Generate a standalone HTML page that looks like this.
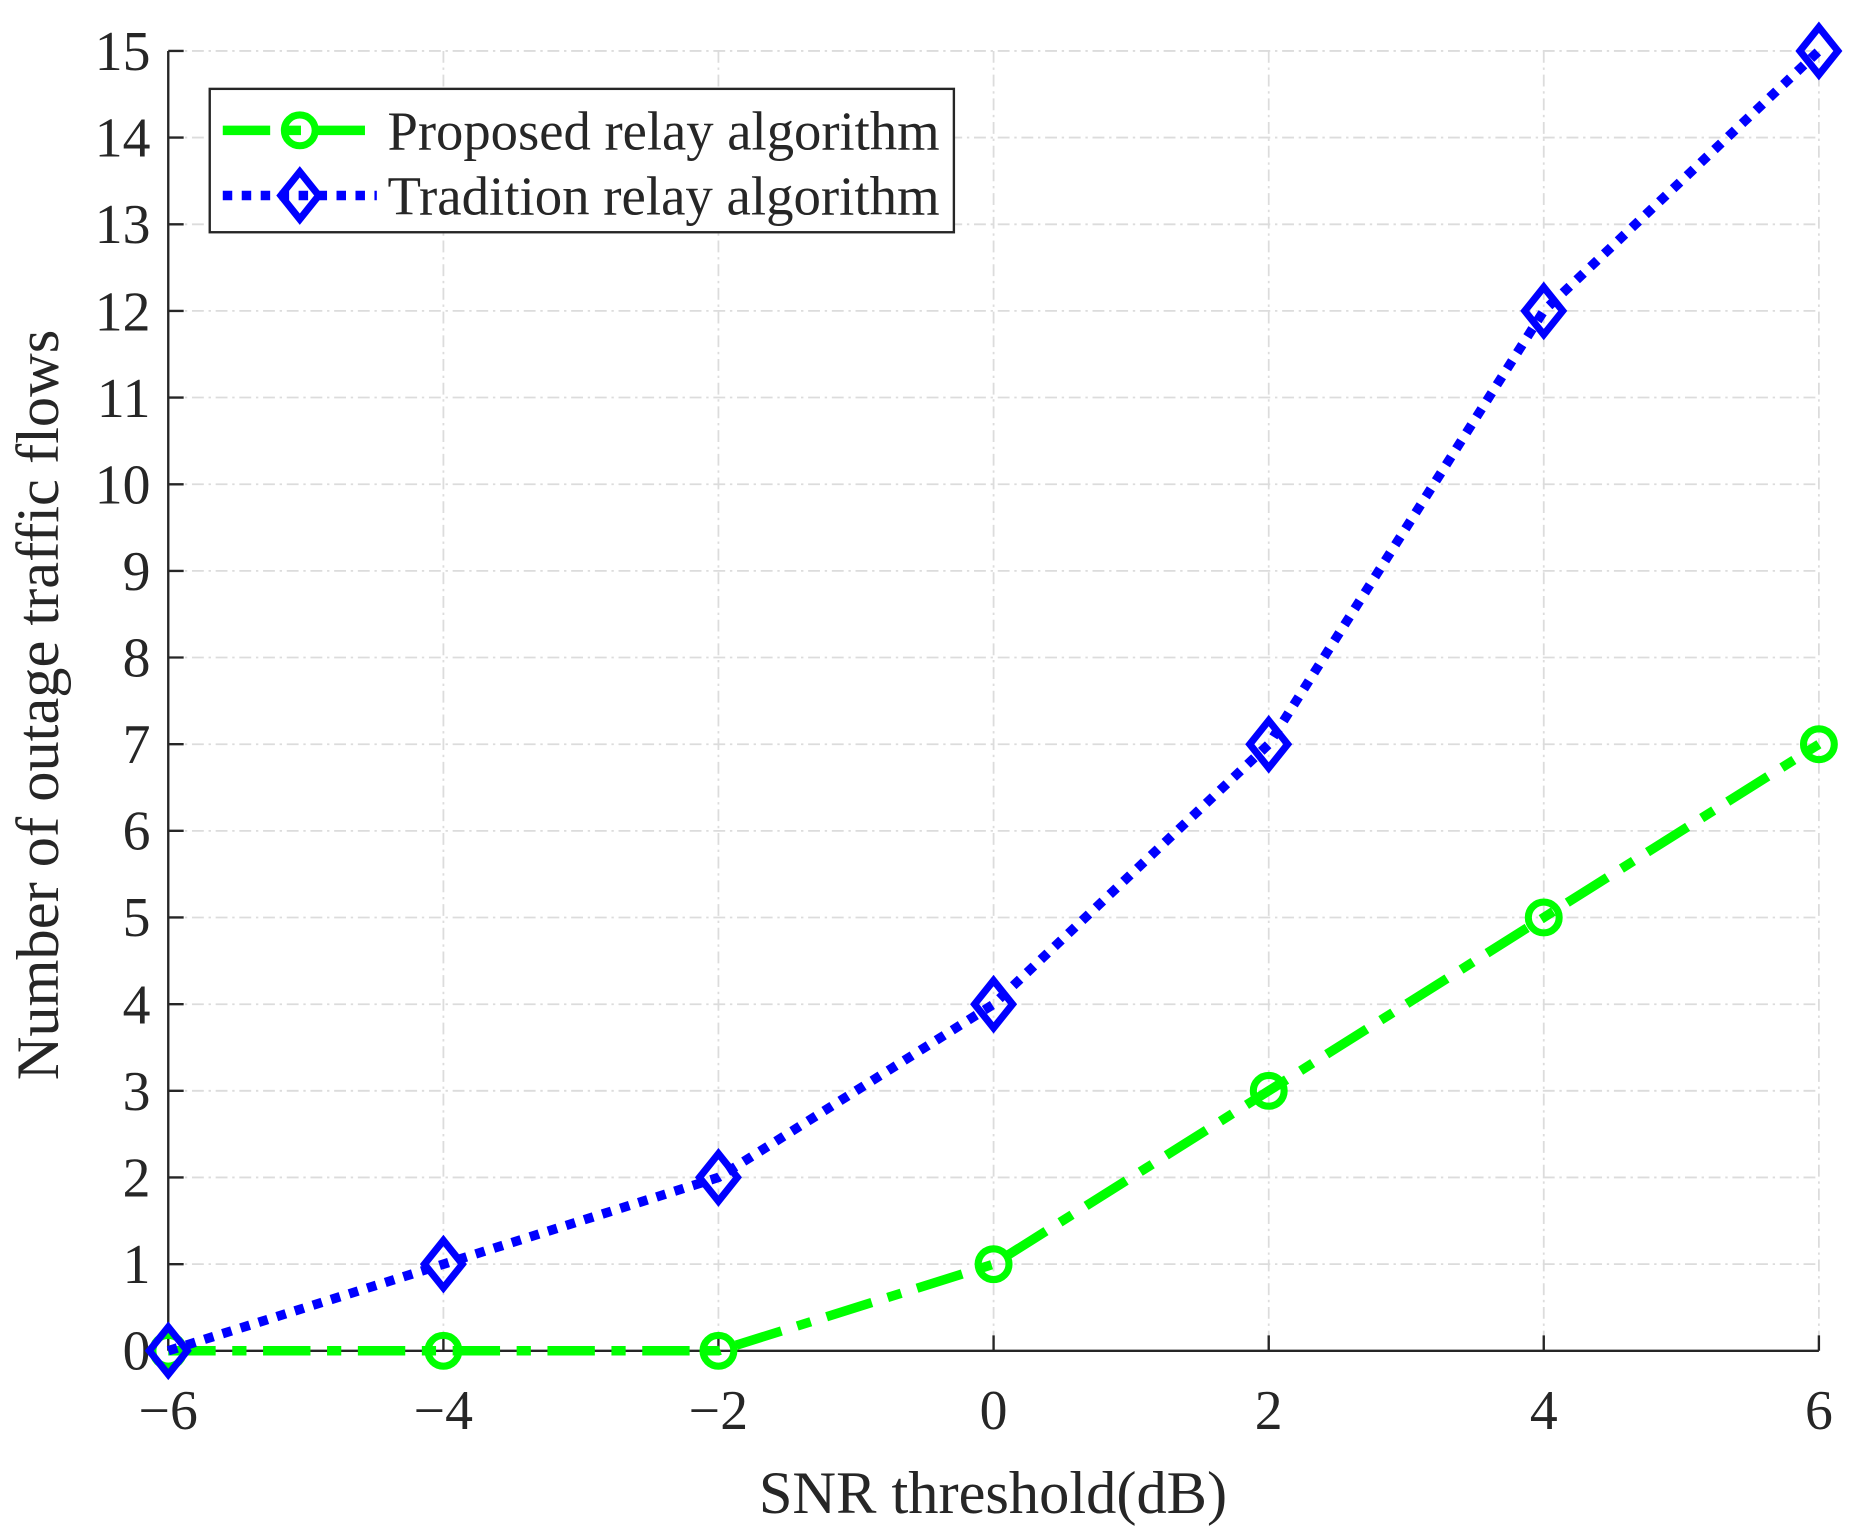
<!DOCTYPE html>
<html><head><style>html,body{margin:0;padding:0;background:#fff}svg{display:block}</style></head>
<body>
<svg width="1858" height="1538" viewBox="0 0 1568 1298" preserveAspectRatio="none" xmlns="http://www.w3.org/2000/svg" font-family="'Liberation Serif', serif" fill="#262626">
<rect width="1568" height="1298" fill="#fff"/>
<g stroke="#dcdcdc" stroke-width="1.5" stroke-dasharray="10,4,2,4">
<line x1="374.2" y1="43" x2="374.2" y2="1140"/><line x1="606.3" y1="43" x2="606.3" y2="1140"/><line x1="838.5" y1="43" x2="838.5" y2="1140"/><line x1="1070.7" y1="43" x2="1070.7" y2="1140"/><line x1="1302.8" y1="43" x2="1302.8" y2="1140"/><line x1="1535" y1="43" x2="1535" y2="1140"/>
<line x1="142" x2="1535" y1="43" y2="43"/><line x1="142" x2="1535" y1="116.1" y2="116.1"/><line x1="142" x2="1535" y1="189.3" y2="189.3"/><line x1="142" x2="1535" y1="262.4" y2="262.4"/><line x1="142" x2="1535" y1="335.5" y2="335.5"/><line x1="142" x2="1535" y1="408.7" y2="408.7"/><line x1="142" x2="1535" y1="481.8" y2="481.8"/><line x1="142" x2="1535" y1="554.9" y2="554.9"/><line x1="142" x2="1535" y1="628.1" y2="628.1"/><line x1="142" x2="1535" y1="701.2" y2="701.2"/><line x1="142" x2="1535" y1="774.3" y2="774.3"/><line x1="142" x2="1535" y1="847.5" y2="847.5"/><line x1="142" x2="1535" y1="920.6" y2="920.6"/><line x1="142" x2="1535" y1="993.7" y2="993.7"/><line x1="142" x2="1535" y1="1066.9" y2="1066.9"/>
</g>
<g stroke="#262626" stroke-width="2">
<line x1="142" y1="43" x2="142" y2="1140"/><line x1="142" y1="1140" x2="1535" y2="1140"/>
<path d="M374.2 1140v-13M606.3 1140v-13M838.5 1140v-13M1070.7 1140v-13M1302.8 1140v-13M1535 1140v-13"/>
<path d="M142 43h13M142 116.1h13M142 189.3h13M142 262.4h13M142 335.5h13M142 408.7h13M142 481.8h13M142 554.9h13M142 628.1h13M142 701.2h13M142 774.3h13M142 847.5h13M142 920.6h13M142 993.7h13M142 1066.9h13"/>
</g>
<g font-size="47" text-anchor="end">
<text x="127" y="1156">0</text><text x="127" y="1083">1</text><text x="127" y="1010">2</text><text x="127" y="937">3</text><text x="127" y="864">4</text><text x="127" y="790">5</text><text x="127" y="717">6</text><text x="127" y="644">7</text><text x="127" y="571">8</text><text x="127" y="498">9</text><text x="127" y="425">10</text><text x="127" y="352">11</text><text x="127" y="279">12</text><text x="127" y="205">13</text><text x="127" y="132">14</text><text x="127" y="59">15</text>
</g>
<g font-size="47" text-anchor="middle">
<text x="142" y="1206">−6</text><text x="374.2" y="1206">−4</text><text x="606.3" y="1206">−2</text><text x="838.5" y="1206">0</text><text x="1070.7" y="1206">2</text><text x="1302.8" y="1206">4</text><text x="1535" y="1206">6</text>
<text x="838" y="1277" font-size="51">SNR threshold(dB)</text>
<text transform="translate(49,595) rotate(-90)" font-size="51">Number of outage traffic flows</text>
</g>
<polyline fill="none" stroke="#00ff00" stroke-width="8" stroke-dasharray="40,14,12,14" points="142,1140 374.2,1140 606.3,1140 838.5,1066.9 1070.7,920.6 1302.8,774.3 1535,628.1"/>
<polyline fill="none" stroke="#0000ff" stroke-width="8" stroke-dasharray="8,8" points="142,1140 374.2,1066.9 606.3,993.7 838.5,847.5 1070.7,628.1 1302.8,262.4 1535,43"/>
<g fill="none" stroke="#00ff00" stroke-width="6">
<circle cx="142" cy="1140" r="13"/><circle cx="374.2" cy="1140" r="13"/><circle cx="606.3" cy="1140" r="13"/><circle cx="838.5" cy="1066.9" r="13"/><circle cx="1070.7" cy="920.6" r="13"/><circle cx="1302.8" cy="774.3" r="13"/><circle cx="1535" cy="628.1" r="13"/>
</g>
<g fill="none" stroke="#0000ff" stroke-width="6">
<path d="M142 1120l-16 20 16 20 16-20z"/><path d="M374.2 1046.9l-16 20 16 20 16-20z"/><path d="M606.3 973.7l-16 20 16 20 16-20z"/><path d="M838.5 827.5l-16 20 16 20 16-20z"/><path d="M1070.7 608.1l-16 20 16 20 16-20z"/><path d="M1302.8 242.4l-16 20 16 20 16-20z"/><path d="M1535 23l-16 20 16 20 16-20z"/>
</g>
<rect x="177" y="75" width="628" height="121" fill="#fff" stroke="#262626" stroke-width="2"/>
<line x1="188" y1="110" x2="318" y2="110" stroke="#00ff00" stroke-width="8" stroke-dasharray="40,14,12,14"/>
<circle cx="253" cy="110" r="13" fill="none" stroke="#00ff00" stroke-width="6"/>
<line x1="188" y1="165" x2="318" y2="165" stroke="#0000ff" stroke-width="8" stroke-dasharray="8,8"/>
<path d="M253 145l-16 20 16 20 16-20z" fill="none" stroke="#0000ff" stroke-width="6"/>
<text x="327" y="126" font-size="46.5" textLength="466" lengthAdjust="spacingAndGlyphs">Proposed relay algorithm</text>
<text x="327" y="181" font-size="46.5" textLength="466" lengthAdjust="spacingAndGlyphs">Tradition relay algorithm</text>
</svg>
</body></html>
